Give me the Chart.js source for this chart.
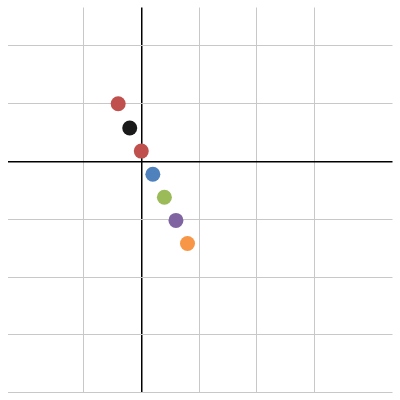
<!DOCTYPE html>
<html>
<head>
<script src="https://cdn.jsdelivr.net/npm/chart.js@4"></script>
<style>body{margin:0;background:#fff}</style>
</head>
<body>
<canvas id="c" width="400" height="400"></canvas>
<script>
const xs = [-0.4, -0.2, 0, 0.2, 0.4, 0.6, 0.8];
const ys = [1, 0.58, 0.18, -0.22, -0.62, -1.02, -1.42];
const colors = ['#c0504d', '#1a1a1a', '#c0504d', '#4f81bd', '#9bbb59', '#8064a2', '#f79646'];

const gridColor = ctx => {
    const v = ctx.tick.value;
    if (v === 0) return '#000';
    if (v === 4) return '#888';
    return Number.isInteger(v) ? '#c8c8c8' : 'rgba(0,0,0,0)';
};
const gridWidth = ctx => ctx.tick.value === 0 ? 1.5 : 1;

new Chart(document.getElementById('c'), {
    type: 'scatter',
    data: {
        datasets: [{
            data: xs.map((x, i) => ({ x: x, y: ys[i] })),
            backgroundColor: colors,
            borderWidth: 0,
            pointRadius: 7.5
        }]
    },
    options: {
        responsive: false,
        animation: false,
        layout: { padding: 0 },
        plugins: { legend: { display: false }, tooltip: { enabled: false } },
        scales: {
            x: {
                type: 'linear', min: -139 / 60, max: 261 / 60,
                ticks: { display: false, stepSize: 1, padding: 0 },
                border: { display: false },
                grid: { color: gridColor, lineWidth: gridWidth, drawTicks: false },
                afterFit: s => { s.height = 0; s.paddingLeft = 0; s.paddingRight = 0; }
            },
            y: {
                type: 'linear', min: -4, max: 160 / 60,
                ticks: { display: false, stepSize: 1, padding: 0 },
                border: { display: false },
                grid: { color: gridColor, lineWidth: gridWidth, drawTicks: false },
                afterFit: s => { s.width = 0; s.paddingTop = 0; s.paddingBottom = 0; }
            }
        }
    }
});
</script>
</body>
</html>
